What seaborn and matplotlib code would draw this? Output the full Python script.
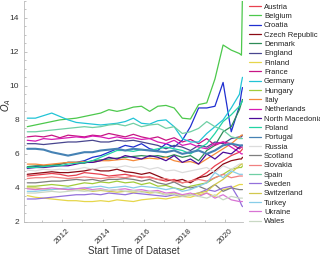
import numpy as np
import pandas as pd
import matplotlib
matplotlib.use("Agg")
import matplotlib.pyplot as plt
import seaborn as sns
from matplotlib.ticker import MultipleLocator

years = [2010.3, 2010.7, 2011.1, 2011.5, 2011.9, 2012.3, 2012.7, 2013.1, 2013.5, 2013.9,
         2014.3, 2014.7, 2015.1, 2015.5, 2015.9, 2016.3, 2016.7, 2017.1, 2017.5, 2017.9,
         2018.3, 2018.7, 2019.1, 2019.5, 2019.9, 2020.3, 2020.7, 2020.8, 2020.85]

austria = [4.7, 4.75, 4.8, 4.85, 4.8, 4.7, 4.75, 4.9, 4.85, 4.8, 4.7, 4.75, 4.8, 4.7, 4.6, 4.65, 4.5, 4.4, 4.5, 4.3, 4.4, 4.6, 4.9, 5.3, 5.6, 5.9, 6.1, 6.2, 6.3]
belgium = [7.6, 7.7, 7.8, 7.9, 8.0, 8.05, 8.1, 8.2, 8.3, 8.4, 8.6, 8.5, 8.6, 8.75, 8.8, 8.5, 8.8, 8.85, 8.7, 8.1, 8.05, 8.9, 9.0, 10.4, 12.4, 12.1, 11.9, 11.8, 15.5]
croatia = [5.2, 5.25, 5.3, 5.3, 5.4, 5.5, 5.5, 5.6, 5.8, 5.9, 6.1, 6.3, 6.5, 6.4, 6.6, 6.3, 6.2, 6.6, 6.4, 6.8, 7.6, 8.7, 8.7, 8.8, 10.2, 7.3, 8.8, 9.6, 9.9]
czech = [4.8, 4.85, 4.9, 4.95, 4.9, 4.9, 4.95, 5.0, 5.1, 5.0, 5.0, 5.1, 4.95, 4.9, 4.8, 4.9, 4.7, 4.5, 4.4, 4.5, 4.3, 4.6, 4.7, 5.0, 5.4, 5.6, 5.7, 5.7, 5.8]
denmark = [5.25, 5.3, 5.3, 5.35, 5.4, 5.5, 5.5, 5.45, 5.6, 5.65, 5.7, 5.75, 5.8, 5.85, 5.9, 5.85, 5.9, 5.8, 5.95, 5.8, 5.9, 5.6, 6.2, 6.5, 7.3, 7.6, 8.6, 9.0, 9.2]
england = [6.6, 6.6, 6.55, 6.6, 6.65, 6.7, 6.7, 6.75, 6.8, 6.7, 6.7, 6.8, 6.75, 6.8, 6.7, 6.6, 6.5, 6.3, 6.5, 6.4, 6.2, 6.5, 6.4, 6.7, 6.6, 6.9, 7.0, 7.0, 7.1]
finland = [3.55, 3.45, 3.4, 3.35, 3.3, 3.25, 3.25, 3.2, 3.2, 3.25, 3.2, 3.3, 3.25, 3.2, 3.3, 3.35, 3.4, 3.35, 3.45, 3.5, 3.45, 3.6, 3.7, 3.5, 3.9, 4.0, 4.2, 4.2, 4.2]
france = [7.0, 7.05, 7.0, 7.1, 6.95, 7.1, 7.05, 7.0, 7.1, 7.05, 7.2, 7.1, 7.0, 7.15, 7.0, 6.9, 7.0, 6.8, 6.95, 6.7, 6.85, 6.6, 6.9, 6.5, 6.7, 6.6, 6.3, 6.4, 6.4]
germany = [8.1, 8.1, 8.25, 8.4, 8.2, 8.0, 7.85, 7.8, 7.75, 7.7, 7.75, 7.8, 7.9, 8.1, 7.8, 7.75, 7.95, 8.0, 7.6, 6.9, 6.7, 6.7, 7.2, 7.6, 8.0, 8.7, 9.5, 10.2, 10.5]
hungary = [4.1, 4.1, 4.15, 4.2, 4.15, 4.1, 4.2, 4.3, 4.25, 4.35, 4.3, 4.4, 4.3, 4.35, 4.2, 4.3, 4.1, 4.15, 4.0, 3.9, 4.1, 4.2, 4.3, 4.6, 4.8, 5.1, 5.2, 5.2, 5.3]
italy = [5.4, 5.4, 5.35, 5.4, 5.45, 5.5, 5.5, 5.55, 5.5, 5.6, 5.6, 5.65, 5.7, 5.6, 5.7, 5.75, 5.7, 5.8, 5.6, 5.5, 5.55, 5.4, 5.7, 6.0, 6.3, 6.6, 7.0, 7.1, 7.1]
netherlands = [6.8, 6.75, 6.9, 6.85, 6.9, 6.95, 7.0, 6.95, 7.05, 7.0, 6.9, 7.0, 6.9, 6.95, 6.85, 6.9, 6.7, 6.6, 6.8, 6.5, 6.6, 6.4, 6.3, 6.6, 6.7, 6.4, 6.1, 6.0, 6.0]
north_macedonia = [5.15, 5.2, 5.2, 5.25, 5.3, 5.3, 5.4, 5.5, 5.5, 5.6, 5.8, 5.7, 5.9, 5.8, 5.7, 5.9, 5.8, 5.6, 5.9, 5.5, 5.7, 5.4, 6.0, 5.7, 6.1, 6.0, 6.4, 6.5, 6.5]
poland = [5.2, 5.2, 5.25, 5.3, 5.3, 5.4, 5.45, 5.5, 5.6, 5.8, 6.0, 6.2, 6.2, 6.15, 6.25, 6.2, 6.3, 6.4, 6.3, 6.2, 6.0, 6.3, 6.6, 7.2, 7.9, 8.3, 8.8, 9.0, 9.1]
portugal = [6.3, 6.3, 6.25, 6.1, 6.0, 5.9, 6.0, 6.1, 6.1, 6.2, 6.25, 6.3, 6.2, 6.3, 6.25, 6.2, 6.15, 6.1, 6.2, 6.0, 6.1, 6.2, 6.0, 6.2, 6.5, 6.6, 6.5, 6.5, 6.5]
russia = [5.05, 5.0, 5.1, 5.05, 5.1, 5.05, 5.1, 5.2, 5.1, 5.2, 5.25, 5.2, 5.3, 5.2, 5.25, 5.1, 5.2, 5.0, 5.05, 4.9, 5.0, 5.1, 5.2, 4.9, 5.3, 5.1, 5.4, 5.4, 5.4]
scotland = [4.3, 4.3, 4.35, 4.4, 4.4, 4.45, 4.5, 4.45, 4.5, 4.4, 4.5, 4.5, 4.55, 4.5, 4.4, 4.5, 4.3, 4.2, 4.35, 4.1, 4.0, 4.1, 3.9, 4.2, 3.8, 4.0, 3.9, 3.9, 3.9]
slovakia = [4.55, 4.6, 4.6, 4.65, 4.6, 4.55, 4.6, 4.65, 4.6, 4.55, 4.6, 4.65, 4.6, 4.7, 4.65, 4.6, 4.5, 4.55, 4.4, 4.3, 4.4, 4.5, 4.4, 4.6, 4.8, 4.6, 4.7, 4.7, 4.7]
spain = [7.3, 7.3, 7.35, 7.4, 7.45, 7.5, 7.55, 7.6, 7.55, 7.6, 7.7, 7.75, 7.65, 7.8, 7.6, 7.7, 7.75, 7.5, 7.6, 7.2, 7.3, 7.5, 7.9, 7.6, 7.4, 7.0, 6.9, 6.9, 6.9]
sweden = [3.35, 3.35, 3.4, 3.45, 3.5, 3.55, 3.6, 3.6, 3.65, 3.6, 3.7, 3.65, 3.6, 3.7, 3.65, 3.6, 3.55, 3.5, 3.6, 3.5, 3.6, 3.7, 3.9, 3.8, 4.0, 4.1, 3.3, 3.0, 2.9]
switzerland = [4.0, 4.0, 3.95, 3.9, 3.95, 3.9, 3.85, 3.9, 3.8, 3.85, 3.8, 3.75, 3.8, 3.75, 3.8, 3.7, 3.75, 3.6, 3.7, 3.55, 3.6, 3.7, 3.8, 4.2, 4.5, 4.9, 5.3, 5.4, 5.4]
turkey = [3.8, 3.8, 3.85, 3.9, 3.95, 4.0, 3.95, 4.0, 4.05, 4.1, 4.0, 4.05, 4.1, 4.0, 4.1, 4.05, 4.0, 3.9, 4.0, 3.8, 3.9, 4.1, 4.3, 4.9, 4.6, 5.0, 4.8, 4.8, 4.8]
ukraine = [3.95, 3.9, 3.95, 4.0, 3.95, 3.9, 3.95, 4.0, 3.9, 3.95, 3.85, 3.9, 3.95, 3.85, 3.9, 3.8, 3.85, 3.7, 3.75, 3.6, 3.7, 3.5, 3.7, 3.4, 3.6, 3.3, 3.2, 3.2, 3.2]
wales = [3.7, 3.7, 3.75, 3.8, 3.75, 3.8, 3.85, 3.8, 3.85, 3.9, 3.85, 3.9, 3.8, 3.85, 3.75, 3.8, 3.7, 3.6, 3.65, 3.5, 3.6, 3.5, 3.4, 3.6, 3.3, 3.5, 3.4, 3.4, 3.4]

countries = ["Austria", "Belgium", "Croatia", "Czech Republic", "Denmark", "England",
             "Finland", "France", "Germany", "Hungary", "Italy", "Netherlands",
             "North Macedonia", "Poland", "Portugal", "Russia", "Scotland", "Slovakia",
             "Spain", "Sweden", "Switzerland", "Turkey", "Ukraine", "Wales"]
series = [austria, belgium, croatia, czech, denmark, england, finland, france, germany,
          hungary, italy, netherlands, north_macedonia, poland, portugal, russia, scotland,
          slovakia, spain, sweden, switzerland, turkey, ukraine, wales]
colors = ["#e8404f", "#4cc84c", "#1f2fd0", "#8b0a14", "#2e8b57", "#48468f",
          "#e6d64a", "#c71585", "#22c4d6", "#a2cc3a", "#f58a3a", "#d81ab4",
          "#4b0a9a", "#22d4a4", "#4682b4", "#dcdcdc", "#7f7f7f", "#f08080",
          "#6fcfa4", "#9370db", "#d2c84e", "#87cde8", "#d874d4", "#c9d8c4"]

rows = []
for c, s in zip(countries, series):
    for y, v in zip(years, s):
        rows.append((c, y, v))
df = pd.DataFrame(rows, columns=["country", "year", "value"])

sns.set_style("ticks")
plt.rcParams["font.family"] = ["Liberation Sans", "DejaVu Sans"]
plt.rcParams["mathtext.fontset"] = "dejavusans"

fig = plt.figure(figsize=(3.2, 2.56), dpi=100)
ax = fig.add_axes([0.075, 0.133, 0.684, 0.864])

palette = dict(zip(countries, colors))
sns.lineplot(data=df, x="year", y="value", hue="country", hue_order=countries,
             palette=palette, linewidth=0.9, ax=ax, estimator=None, sort=False)
for line, c in zip(ax.get_lines(), countries):
    if c == "Portugal":
        line.set_linewidth(1.5)

ax.set_xlim(2010.14, 2020.87)
ax.set_ylim(2, 15)
ax.xaxis.set_major_locator(MultipleLocator(2))
ax.xaxis.set_minor_locator(MultipleLocator(1))
ax.yaxis.set_major_locator(MultipleLocator(2))
ax.yaxis.set_minor_locator(MultipleLocator(0.5))
ax.tick_params(axis="both", which="both", direction="in", colors="#aaaaaa",
               labelcolor="#333333", labelsize=6, length=2.5, width=0.5)
ax.tick_params(axis="both", which="minor", length=1.5)
ax.set_xticks([2012, 2014, 2016, 2018, 2020])
ax.set_xticklabels(["2012", "2014", "2016", "2018", "2020"], rotation=45)
ax.set_xlabel("Start Time of Dataset", fontsize=7, color="#333333", labelpad=1)
ax.set_ylabel(r"$O_A$", fontsize=7, color="#333333")
ax.yaxis.set_label_coords(-0.05, 0.53)
for sp in ["top", "right"]:
    ax.spines[sp].set_visible(False)
for sp in ["left", "bottom"]:
    ax.spines[sp].set_color("#bbbbbb")
    ax.spines[sp].set_linewidth(0.6)

handles, labels = ax.get_legend_handles_labels()
leg = ax.legend(handles, labels, loc="upper left", bbox_to_anchor=(1.02, 0.995),
                frameon=False, fontsize=5.5, handlelength=1.6, handletextpad=0.4,
                labelspacing=0.26, borderaxespad=0, borderpad=0.2)
for t in leg.get_texts():
    t.set_color("#222222")

fig.savefig("out.png", dpi=100)
